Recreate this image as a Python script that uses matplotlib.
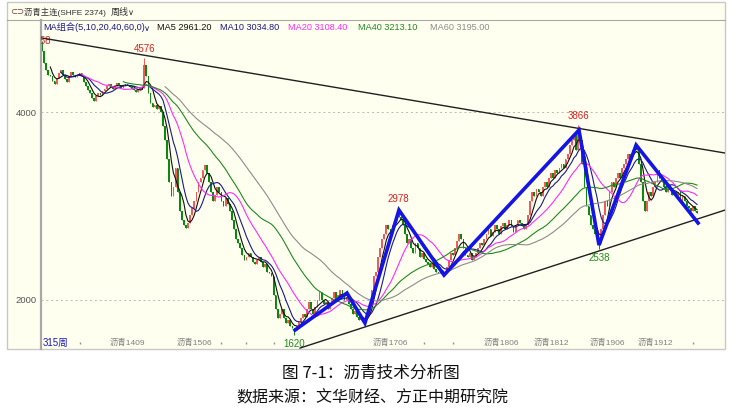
import numpy as np
import pandas as pd
import matplotlib
matplotlib.use('Agg')
import matplotlib.pyplot as plt
from matplotlib.patches import Rectangle
from matplotlib.lines import Line2D
import matplotlib.transforms as mtransforms

plt.rcParams['font.family'] = ['Noto Sans CJK SC', 'DejaVu Sans']
MIX = ['Liberation Sans', 'Noto Sans CJK SC']

W, H = 739, 412

# weekly closes, 315 weeks
close = [
    4650, 4520, 4450, 4400, 4380,
    4330, 4300, 4360, 4420, 4450, 4400, 4350, 4320,
    4380, 4430, 4400, 4370, 4390, 4420, 4380, 4320,
    4280, 4240, 4200, 4150, 4120, 4170, 4200, 4180, 4220, 4250,
    4280, 4300, 4270, 4250, 4280, 4310, 4290, 4260, 4280, 4300,
    4290, 4270, 4250, 4230, 4210, 4240, 4250, 4260,
    4500,
    4380, 4200, 4100, 4050, 4080, 4030, 4060, 4000,
    3850, 3700, 3500, 3250, 3100, 3200, 3400, 3150, 2950, 2850, 2800, 2760,
    2820, 2900, 2980, 3050, 3150, 3250, 3300, 3380, 3440, 3350,
    3250, 3150, 3050, 3120, 3200, 3150, 3050, 3000, 3080, 3020, 2950, 2850, 2750,
    2650, 2600, 2550, 2480, 2420, 2450, 2500, 2460,
    2400, 2380, 2420, 2460, 2400, 2350, 2380, 2300, 2280, 2250, 2050, 1900,
    1800, 1850, 1900, 1800, 1750, 1780, 1720, 1700, 1680,
    1720, 1760, 1800, 1850, 1820, 1900, 1980, 1900, 1850, 1920,
    2000, 2080, 2000, 1950, 1980, 1900, 1950, 2020, 2080, 2000,
    2050, 2100, 2050, 2000, 2030,
    1950, 1900, 1850, 1880, 1820, 1780, 1800, 1760, 1790,
    1850, 1950, 2100, 2250, 2300, 2450, 2550, 2650, 2700, 2800,
    2750, 2700, 2800, 2850, 2900, 2880,
    2850, 2800, 2700, 2600, 2650, 2550, 2500, 2600, 2550, 2450,
    2500, 2430, 2400, 2380, 2350, 2400, 2330, 2300, 2280, 2320, 2260, 2280,
    2350, 2420, 2500, 2480, 2550, 2620, 2700, 2650, 2550, 2480,
    2450, 2500, 2420, 2460, 2500, 2550, 2600, 2580, 2650, 2700,
    2750, 2680, 2720, 2800, 2750, 2700, 2780,
    2820, 2750, 2800, 2850, 2780, 2720, 2800, 2850, 2820, 2780, 2750, 2800, 2900, 3050,
    3150, 3100, 3180, 3150, 3100, 3200, 3250, 3200, 3300, 3350,
    3300, 3380, 3350, 3400, 3450, 3400, 3500, 3550, 3650, 3700, 3750, 3600, 3800,
    3700, 3450, 3200, 3000, 2900, 2800, 2750, 2700, 2650, 2600,
    2750, 2900, 3050, 3000, 3150, 3250, 3200, 3300, 3350, 3300,
    3400, 3450, 3500, 3550, 3500, 3600, 3650, 3600,
    3450, 3250, 3050, 2950, 3050,
    3150, 3100, 3200, 3250, 3380,
    3300, 3250, 3200, 3150, 3220,
    3180, 3120, 3150, 3100, 3150,
    3050, 3100, 3050, 3000, 2980,
    2950, 3000, 2950, 2920,
]
first_open = 4700

# marked extremes
extreme_high = {0: 4758, 49: 4576, 171: 2978, 257: 3866}
extreme_low = {121: 1620, 267: 2538}

# blue wave lines and black channel lines
zigzag_idx = [121.3, 146.2, 154.8, 171.1, 192.7, 257.4, 267.0, 284.8, 314.5]
zigzag_val = [1676, 2071, 1751, 2955, 2262, 3808, 2582, 3648, 2817]
upper_idx = [0, 327.4]
upper_val = [4789, 3563]
lower_idx = [123.7, 327.4]
lower_val = [1484, 2955]

tick_idx = [41, 73, 167, 220, 244, 271, 294]
tick_lab = ['沥青1409', '沥青1506', '沥青1706', '沥青1806', '沥青1812', '沥青1906', '沥青1912']
minor_idx = [18, 86, 98, 111, 183, 197, 312]

ma_periods = [5, 10, 20, 40, 60]
ma_colors = ['#101010', '#1a1a8c', '#ff2aff', '#1f8a1f', '#8c8c8c']
ma_readout = ['2961.20', '3034.80', '3108.40', '3213.10', '3195.00']
ma_text_x = [157, 220, 288, 358, 430]


def fx(x):
    return x / W


def fy(y):
    return 1 - y / H


fig = plt.figure(figsize=(W / 100, H / 100), dpi=100)
fig.patch.set_facecolor('white')

# outer panel (drawn under the axes)
fig.patches.append(Rectangle((fx(7), fy(349)), fx(725) - fx(7), fy(2) - fy(349),
                             transform=fig.transFigure, facecolor='#fffff0',
                             edgecolor='#c8c8c8', lw=1, zorder=-5))
fig.lines.append(Line2D([fx(7), fx(725)], [fy(20), fy(20)], transform=fig.transFigure,
                        color='#a8a8a8', lw=0.8, zorder=-4))

ax = fig.add_axes([fx(41), fy(349), fx(725) - fx(41), fy(20) - fy(349)])
ax.set_facecolor('none')
ax.set_xlim(-0.48, 327.4)
ax.set_ylim(1474, 4981)
for s in ['top', 'right', 'bottom']:
    ax.spines[s].set_visible(False)
ax.spines['left'].set_color('#a8a8a8')
ax.spines['left'].set_linewidth(1.6)
ax.set_xticks([])
ax.set_yticks([2000, 4000])
ax.tick_params(axis='y', length=0, pad=3, labelsize=6.8, labelcolor='#555555')
for lbl in ax.get_yticklabels():
    lbl.set_fontfamily('Liberation Sans')
for v in [2000, 4000]:
    ax.axhline(v, color='#b8b8b8', lw=0.7, ls=(0, (2, 3)), zorder=1)

# candles
c = np.array(close, dtype=float)
idx = np.arange(len(c))
o = np.concatenate([[first_open], c[:-1]])
hi = np.maximum(o, c)
lo = np.minimum(o, c)
for i, v in extreme_high.items():
    hi[i] = v
for i, v in extreme_low.items():
    lo[i] = v
up = c >= o
cols = np.where(up, '#f05a5a', '#0a8a0a')
ax.vlines(idx, lo, hi, colors=cols, lw=0.7, zorder=2)
ax.bar(idx, np.maximum(np.abs(c - o), 12), bottom=np.minimum(o, c), width=0.8,
       color=cols, linewidth=0, zorder=2)

# moving averages
ser = pd.Series(c)
for n, col in zip(ma_periods, ma_colors):
    ax.plot(idx, ser.rolling(n).mean(), color=col, lw=0.8, zorder=3)

# channel and wave lines
ax.plot(upper_idx, upper_val, color='#202020', lw=1.0, zorder=4)
ax.plot(lower_idx, lower_val, color='#202020', lw=1.0, zorder=4)
ax.plot(zigzag_idx, zigzag_val, color='#1414e6', lw=2.6, zorder=5, solid_joinstyle='miter')

# extreme labels
for i, v in extreme_high.items():
    if i == 0:
        ax.annotate(str(v), xy=(i, v), xytext=(-1, 0), textcoords='offset pixels',
                    ha='center', va='center', fontsize=7, color='#e02020',
                    family='Liberation Sans', clip_on=True)
    else:
        ax.annotate(str(v), xy=(i, v), xytext=(0, 9), textcoords='offset pixels',
                    ha='center', va='center', fontsize=7, color='#e02020',
                    family='Liberation Sans')
for i, v in extreme_low.items():
    ax.annotate(str(v), xy=(i, v), xytext=(0, -9), textcoords='offset pixels',
                ha='center', va='center', fontsize=7, color='#1f8a1f',
                family='Liberation Sans')

# bottom labels inside the panel
trans = mtransforms.blended_transform_factory(ax.transData, ax.transAxes)
ax.text(0.5, 0.018, '315周', transform=trans, ha='left', va='center',
        fontsize=7, color='#1a1ab4', family=MIX)
for i, t in zip(tick_idx, tick_lab):
    ax.text(i, 0.018, t, transform=trans, ha='center', va='center',
            fontsize=6, color='#808080', family=MIX)
ax.plot(minor_idx, [0.018] * len(minor_idx), transform=trans, ls='none',
        marker='|', ms=2, color='#909090')

# header
fig.text(fx(10), fy(12), '⊂⊃', fontsize=6, color='#7a3030', va='center', family='DejaVu Sans')
fig.text(fx(24), fy(12), '沥青主连(SHFE 2374)', fontsize=6, color='#333333', va='center',
         family=MIX)
fig.text(fx(111), fy(12), '周线', fontsize=6.5, color='#333333', va='center')
fig.text(fx(128), fy(12.5), '∨', fontsize=6, color='#333333', va='center', family='DejaVu Sans')
fig.text(fx(43), fy(27.5), 'MA组合(5,10,20,40,60,0)', fontsize=6.6, color='#1a1a8c',
         va='center', family=MIX)
fig.text(fx(144), fy(28.5), '∨', fontsize=6, color='#1a1a8c', va='center', family='DejaVu Sans')
for n, col, val, x in zip(ma_periods, ma_colors, ma_readout, ma_text_x):
    fig.text(fx(x), fy(27.5), f'MA{n} {val}', fontsize=6.6, color=col, va='center',
             family='Liberation Sans')

# caption
fig.text(fx(371), fy(373), '图 7-1：沥青技术分析图', ha='center', va='center',
         fontsize=12, color='#111111')
fig.text(fx(372), fy(398), '数据来源：文华财经、方正中期研究院', ha='center', va='center',
         fontsize=11.5, color='#111111')

fig.savefig('out.png', dpi=100)
